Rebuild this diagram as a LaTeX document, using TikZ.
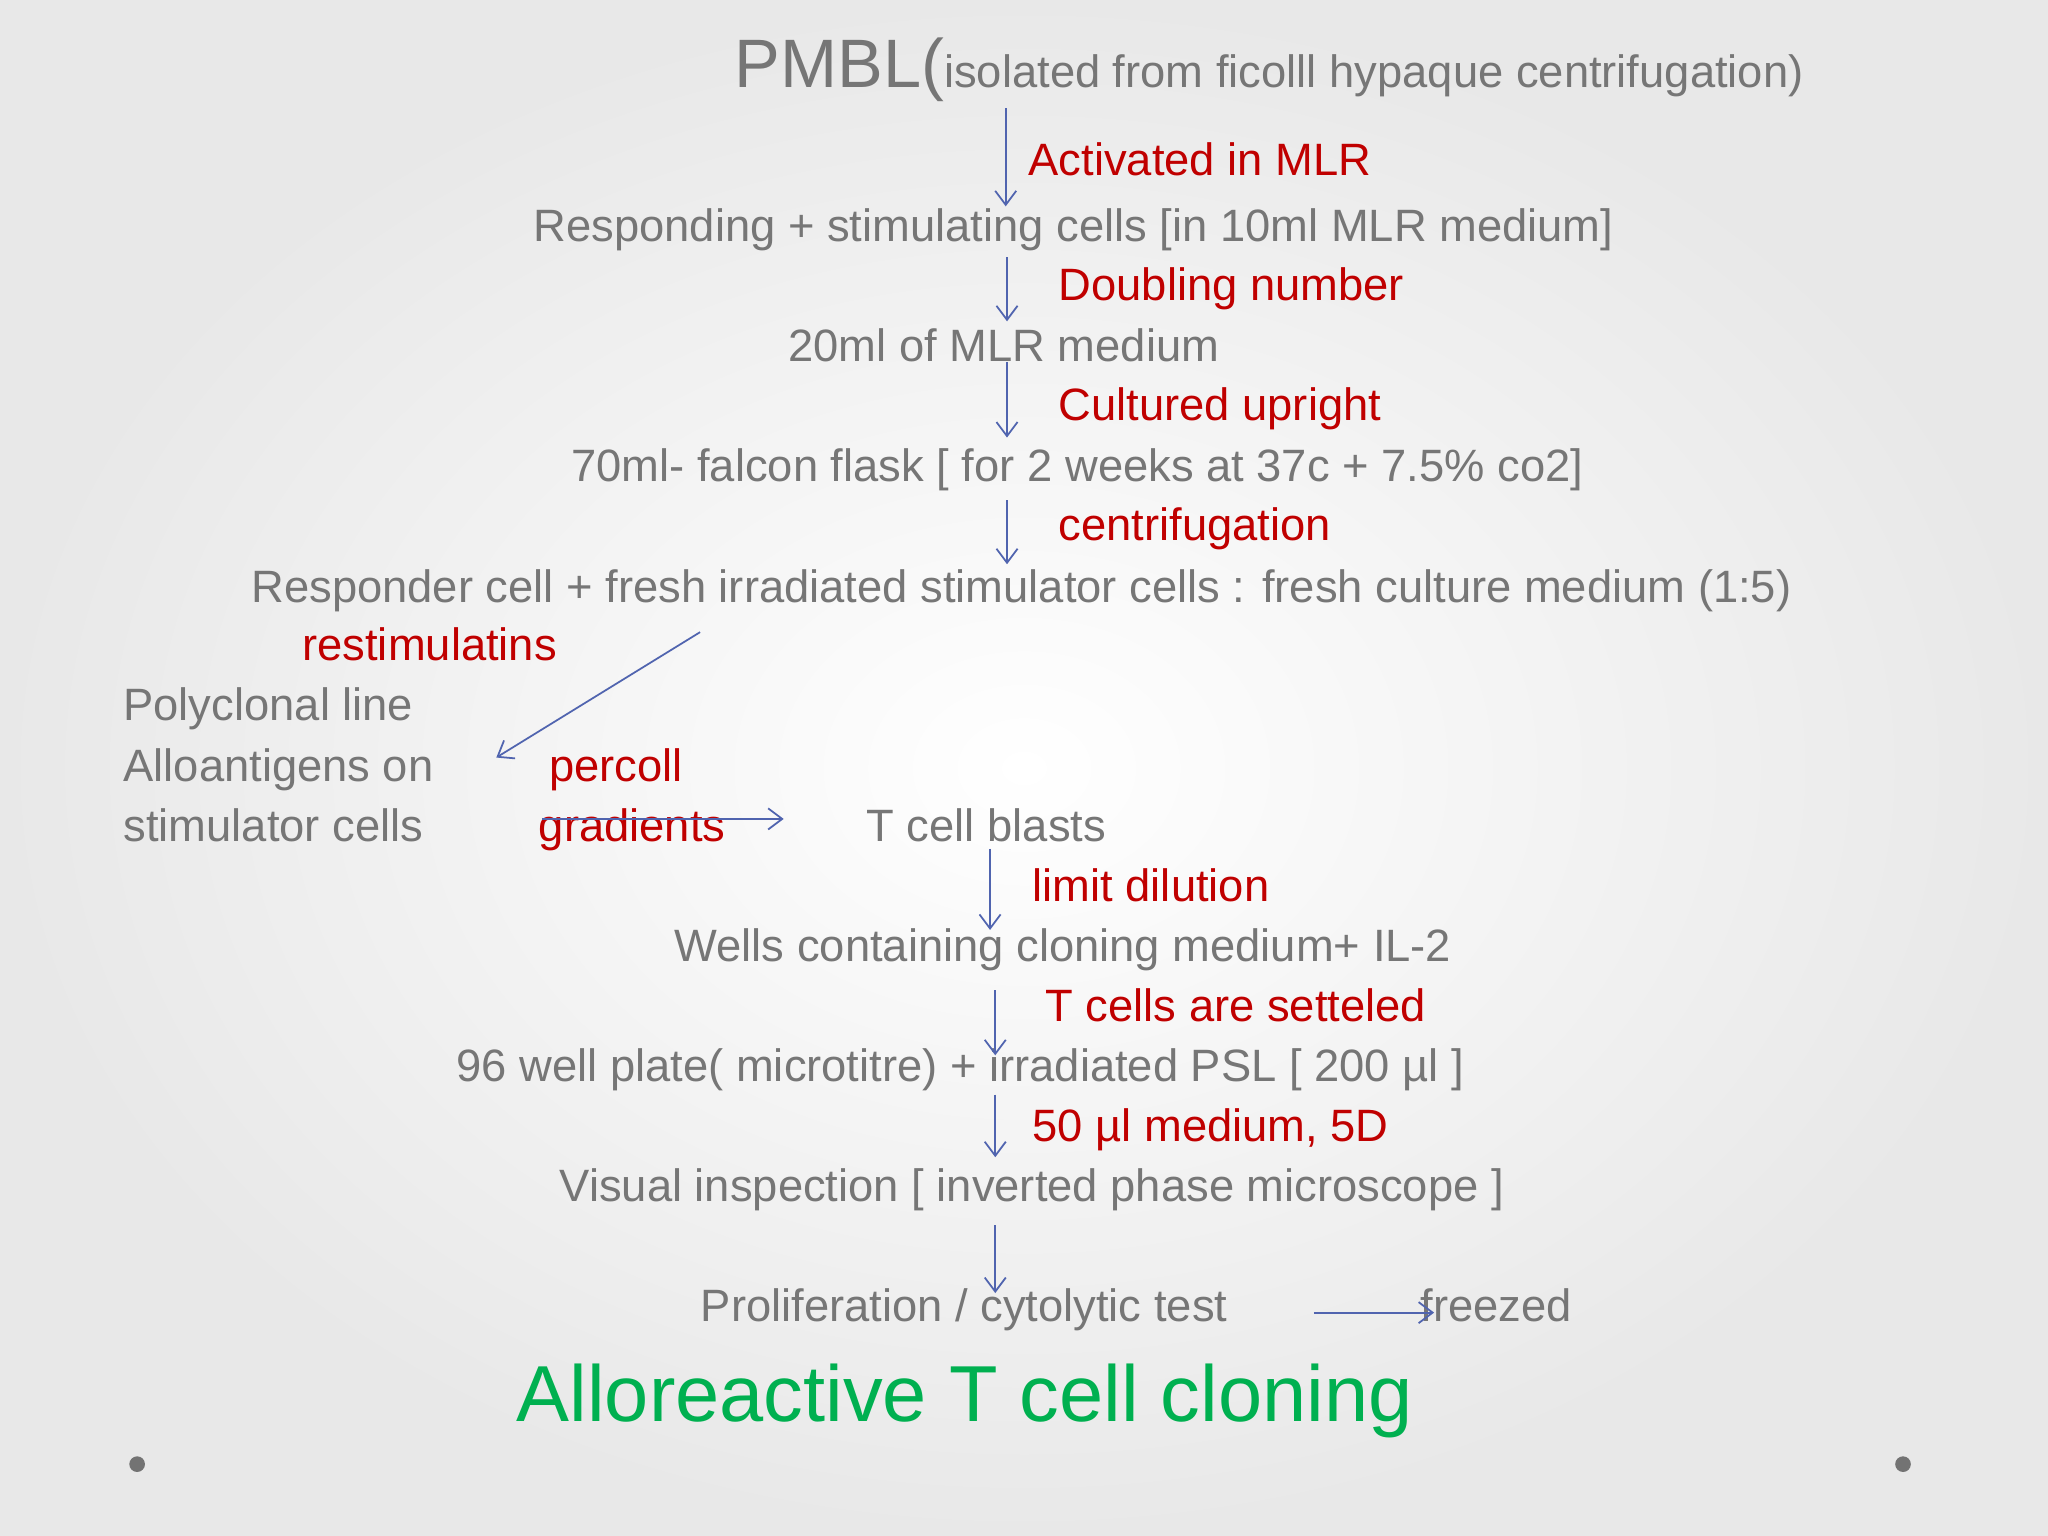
\documentclass[tikz,border=0pt]{standalone}
\usepackage{fontspec}
\setmainfont{Liberation Sans}
\usetikzlibrary{arrows.meta}
\definecolor{txt}{RGB}{118,118,118}
\definecolor{rd}{RGB}{192,0,0}
\definecolor{bl}{RGB}{80,100,175}
\definecolor{gr}{RGB}{0,176,80}
\tikzset{
 t/.style={anchor=base west,inner sep=0pt,text=txt,font=\fontsize{12.9}{15}\selectfont},
 r/.style={t,text=rd},
 ar/.style={draw=bl,line width=0.5pt,-{Straight Barb[length=4pt,width=6pt]}}
}
\begin{document}
\begin{tikzpicture}[x=0.01306cm,y=-0.01306cm]
\shade[inner color=white,outer color=black!9] (0,0) rectangle (1568,1176);
\useasboundingbox (0,0) rectangle (1568,1176);
\node[t] (pmbl) at (562,67) {{\fontsize{19.5}{22}\selectfont PMBL(}isolated from ficolll hypaque centrifugation)};
\node[r] (l1) at (787,134) {Activated in MLR};
\node[t] (n2) at (408,185) {Responding + stimulating cells [in 10ml MLR medium]};
\node[r] (l2) at (810,230) {Doubling number};
\node[t] (n3) at (603,277) {20ml of MLR medium};
\node[r] (l3) at (810,322) {Cultured upright};
\node[t] (n4) at (437,369) {70ml- falcon flask [ for 2 weeks at 37c + 7.5\% co2]};
\node[r] (l4) at (810,414) {centrifugation};
\node[t] (n5) at (192,461) {Responder cell + fresh irradiated stimulator cells : fresh culture medium (1:5)};
\node[r] (l5) at (231,506) {restimulatins};
\node[t] (p1) at (94,552) {Polyclonal line};
\node[t] (p2) at (94,598) {Alloantigens on};
\node[t] (p3) at (94,644) {stimulator cells};
\node[r] (l6a) at (420,598) {percoll};
\node[r] (l6b) at (412,644) {gradients};
\node[t] (n6) at (663,644) {T cell blasts};
\node[r] (l7) at (790,690) {limit dilution};
\node[t] (n7) at (516,736) {Wells containing cloning medium+ IL-2};
\node[r] (l8) at (800,782) {T cells are setteled};
\node[t] (n8) at (349,828) {96 well plate( microtitre) + irradiated PSL [ 200 µl ]};
\node[r] (l9) at (790,874) {50 µl medium, 5D};
\node[t] (n9) at (428,920) {Visual inspection [ inverted phase microscope ]};
\node[t] (n10) at (536,1012) {Proliferation / cytolytic test};
\node[t] (n11) at (1087,1012) {freezed};
\node[anchor=base west,inner sep=0pt,text=gr,font=\fontsize{22.6}{26}\selectfont] (title) at (395,1088) {Alloreactive T cell cloning};
\foreach \n/\a/\b in {1/{770,83}/{770,158},2/{771,197}/{771,246},3/{771,277}/{771,335},4/{771,383}/{771,432},5/{536,484}/{380,580},6/{415,627}/{600,627},7/{758,650}/{758,712},8/{762,758}/{762,808},9/{762,838}/{762,886},10/{762,938}/{762,990},11/{1006,1005}/{1098,1005}}
{\coordinate (s\n) at (\a); \coordinate (e\n) at (\b); \draw[ar] (s\n) -- (e\n);}
\fill[black!55] (105,1121) circle (6) (1457,1121) circle (6);
\end{tikzpicture}
\end{document}
